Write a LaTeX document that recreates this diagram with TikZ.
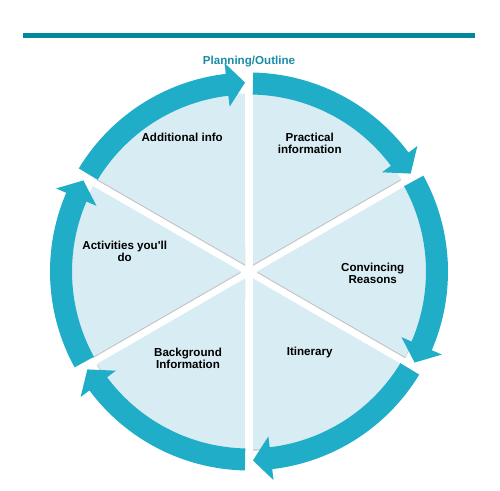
\documentclass[tikz,border=0pt]{standalone}
\usepackage{fontspec}
\newfontfamily\diagfont{Liberation Sans}
\usetikzlibrary{calc}
\definecolor{barteal}{RGB}{0,136,158}
\definecolor{ringblue}{RGB}{31,173,200}
\definecolor{pieblue}{RGB}{216,236,243}
\definecolor{titleteal}{RGB}{24,140,165}
\tikzset{
	lbl/.style={font=\diagfont\bfseries\fontsize{11.6}{12}\selectfont, align=center, inner sep=0pt},
	pieshade/.style={fill=black!24},
}
% one slice of the pie, between angles #1 < #2
\def\piecut(#1:#2){
	\pgfmathsetmacro\angM{(#1+#2)/2}
	\pgfmathsetmacro\angS{#1+1.3}
	\pgfmathsetmacro\angE{#2-1.3}
	\fill[pieshade, yshift=-1.2pt] (\angM:8) -- (\angS:178) arc[start angle=\angS, end angle=\angE, radius=178pt] -- cycle;
	\fill[pieblue] (\angM:8) -- (\angS:178) arc[start angle=\angS, end angle=\angE, radius=178pt] -- cycle;
}
% one arrow of the ring, clockwise from #1 to #2
\def\ringarrow(#1:#2){
	\pgfmathsetmacro\angS{#1-1.2}
	\pgfmathsetmacro\angB{#2+6.7}
	\pgfmathsetmacro\angT{#2+1.2}
	\fill[ringblue] (\angS:199) arc[start angle=\angS, end angle=\angB, radius=199pt] -- (\angB:210) -- (\angT:189) -- (\angB:166) -- (\angB:177) arc[start angle=\angB, end angle=\angS, radius=177pt] -- cycle;
}

\begin{document}
\begin{tikzpicture}[x=1pt, y=1pt]
	%%%%% START %%%%%
	\useasboundingbox (0, 0) rectangle (500, 490);
	
	\fill[barteal] (23, 452.3) rectangle (475, 457.3);
	
	\begin{scope}[shift={(249, 218.5)}]
		\piecut(30:90)
		\piecut(90:150)
		\piecut(150:210)
		\piecut(210:270)
		\piecut(270:330)
		\piecut(-30:30)
		
		\ringarrow(150:90)
		\ringarrow(90:30)
		\ringarrow(30:-30)
		\ringarrow(-30:-90)
		\ringarrow(-90:-150)
		\ringarrow(210:150)
	\end{scope}
	
	\node[lbl, text=titleteal] (title) at (249, 428.3) {Planning/Outline};
	
	\node[lbl] (addinfo) at (182.2, 353) {Additional info};
	\node[lbl] (practical) at (309.7, 346.8) {Practical\\information};
	\node[lbl] (convincing) at (372.7, 216.2) {Convincing\\Reasons};
	\node[lbl] (itinerary) at (309.7, 137.3) {Itinerary};
	\node[lbl] (background) at (188, 131.8) {Background\\Information};
	\node[lbl] (activities) at (124.7, 238.3) {Activities you'll\\do};
	
	%%%%% END %%%%%
\end{tikzpicture}
\end{document}
